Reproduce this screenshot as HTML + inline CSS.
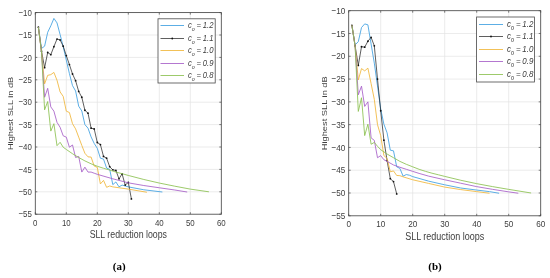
<!DOCTYPE html>
<html><head><meta charset="utf-8"><title>SLL reduction</title>
<style>
html,body{margin:0;padding:0;background:#fff;}
svg{display:block}
.s{font-family:"Liberation Sans",Arial,sans-serif;fill:#404040}
.f{font-family:"Liberation Serif","Times New Roman",serif;fill:#000}
</style></head><body>
<svg width="550" height="278" viewBox="0 0 550 278">
<rect width="550" height="278" fill="#fff"/>
<path d="M66.30 12.60V214.20M97.30 12.60V214.20M128.30 12.60V214.20M159.30 12.60V214.20M190.30 12.60V214.20M35.30 191.80H221.30M35.30 169.40H221.30M35.30 147.00H221.30M35.30 124.60H221.30M35.30 102.20H221.30M35.30 79.80H221.30M35.30 57.40H221.30M35.30 35.00H221.30" stroke="#e3e3e3" stroke-width="0.7" fill="none"/>
<polyline points="38.40,27.20 41.50,48.44 44.60,46.20 47.70,32.31 50.80,25.82 53.90,18.42 57.00,22.90 60.10,34.55 63.20,46.65 66.30,60.09 69.40,73.53 72.50,85.62 75.60,91.00 78.70,106.23 81.80,110.94 84.90,124.60 88.00,128.18 91.10,136.92 94.20,143.42 97.30,148.34 100.40,158.20 103.50,159.10 106.60,168.06 109.70,169.40 112.80,184.63 115.90,181.94 119.00,186.87 122.10,185.08 125.20,185.98 128.30,186.87 143.80,189.78 162.40,192.02" fill="none" stroke="#3f9fe0" stroke-width="0.85" stroke-linejoin="round"/>
<polyline points="38.40,27.20 41.50,51.13 44.60,67.70 47.70,52.47 50.80,54.71 53.90,46.65 57.00,39.03 60.10,39.93 63.20,46.20 66.30,55.61 69.40,64.57 72.50,73.98 75.60,80.70 78.70,91.45 81.80,97.27 84.90,110.26 88.00,113.18 91.10,128.18 94.20,128.90 97.30,142.52 100.40,144.54 103.50,156.41 106.60,158.20 109.70,166.71 112.80,169.85 115.90,170.52 119.00,178.81 122.10,173.88 125.20,185.08 128.30,182.39 131.40,198.97" fill="none" stroke="#1a1a1a" stroke-width="0.7" stroke-linejoin="round"/>
<circle cx="38.40" cy="27.20" r="0.9" fill="#111"/>
<circle cx="41.50" cy="51.13" r="0.9" fill="#111"/>
<circle cx="44.60" cy="67.70" r="0.9" fill="#111"/>
<circle cx="47.70" cy="52.47" r="0.9" fill="#111"/>
<circle cx="50.80" cy="54.71" r="0.9" fill="#111"/>
<circle cx="53.90" cy="46.65" r="0.9" fill="#111"/>
<circle cx="57.00" cy="39.03" r="0.9" fill="#111"/>
<circle cx="60.10" cy="39.93" r="0.9" fill="#111"/>
<circle cx="63.20" cy="46.20" r="0.9" fill="#111"/>
<circle cx="66.30" cy="55.61" r="0.9" fill="#111"/>
<circle cx="69.40" cy="64.57" r="0.9" fill="#111"/>
<circle cx="72.50" cy="73.98" r="0.9" fill="#111"/>
<circle cx="75.60" cy="80.70" r="0.9" fill="#111"/>
<circle cx="78.70" cy="91.45" r="0.9" fill="#111"/>
<circle cx="81.80" cy="97.27" r="0.9" fill="#111"/>
<circle cx="84.90" cy="110.26" r="0.9" fill="#111"/>
<circle cx="88.00" cy="113.18" r="0.9" fill="#111"/>
<circle cx="91.10" cy="128.18" r="0.9" fill="#111"/>
<circle cx="94.20" cy="128.90" r="0.9" fill="#111"/>
<circle cx="97.30" cy="142.52" r="0.9" fill="#111"/>
<circle cx="100.40" cy="144.54" r="0.9" fill="#111"/>
<circle cx="103.50" cy="156.41" r="0.9" fill="#111"/>
<circle cx="106.60" cy="158.20" r="0.9" fill="#111"/>
<circle cx="109.70" cy="166.71" r="0.9" fill="#111"/>
<circle cx="112.80" cy="169.85" r="0.9" fill="#111"/>
<circle cx="115.90" cy="170.52" r="0.9" fill="#111"/>
<circle cx="119.00" cy="178.81" r="0.9" fill="#111"/>
<circle cx="122.10" cy="173.88" r="0.9" fill="#111"/>
<circle cx="125.20" cy="185.08" r="0.9" fill="#111"/>
<circle cx="128.30" cy="182.39" r="0.9" fill="#111"/>
<circle cx="131.40" cy="198.97" r="0.9" fill="#111"/>
<polyline points="38.40,27.20 41.50,51.58 44.60,83.83 47.70,75.32 50.80,74.65 53.90,72.41 57.00,80.25 60.10,91.90 63.20,96.38 66.30,111.16 69.40,112.50 72.50,123.70 75.60,128.90 78.70,137.14 81.80,145.43 84.90,153.27 88.00,156.86 91.10,157.08 94.20,166.04 97.30,167.38 100.40,183.96 103.50,180.38 106.60,187.32 109.70,185.98 112.80,186.87 128.30,189.11 146.90,192.25" fill="none" stroke="#f0b63a" stroke-width="0.85" stroke-linejoin="round"/>
<polyline points="38.40,27.20 41.50,52.02 44.60,97.27 47.70,88.31 50.80,106.90 53.90,111.16 57.00,122.36 60.10,127.29 63.20,135.80 66.30,137.14 69.40,147.22 72.50,144.98 75.60,157.53 78.70,156.41 81.80,172.09 84.90,167.16 88.00,172.09 91.10,172.09 94.20,173.21 97.30,174.33 112.80,178.81 128.30,182.84 143.80,185.53 159.30,187.77 174.80,190.01 187.20,192.02" fill="none" stroke="#a75fc8" stroke-width="0.85" stroke-linejoin="round"/>
<polyline points="38.40,27.20 41.50,52.02 44.60,109.82 47.70,101.53 50.80,131.10 53.90,123.70 57.00,145.66 60.10,142.30 63.20,147.22 66.30,149.46 72.50,153.72 78.70,157.53 84.90,160.89 91.10,163.80 97.30,166.26 103.50,168.28 109.70,170.07 115.90,172.09 122.10,173.66 128.30,175.45 143.80,179.48 159.30,183.06 174.80,186.20 190.30,189.11 208.90,191.80" fill="none" stroke="#8bc050" stroke-width="0.85" stroke-linejoin="round"/>
<path d="M35.30 214.20v-2.0M35.30 12.60v2.0M66.30 214.20v-2.0M66.30 12.60v2.0M97.30 214.20v-2.0M97.30 12.60v2.0M128.30 214.20v-2.0M128.30 12.60v2.0M159.30 214.20v-2.0M159.30 12.60v2.0M190.30 214.20v-2.0M190.30 12.60v2.0M221.30 214.20v-2.0M221.30 12.60v2.0M35.30 214.20h2.0M221.30 214.20h-2.0M35.30 191.80h2.0M221.30 191.80h-2.0M35.30 169.40h2.0M221.30 169.40h-2.0M35.30 147.00h2.0M221.30 147.00h-2.0M35.30 124.60h2.0M221.30 124.60h-2.0M35.30 102.20h2.0M221.30 102.20h-2.0M35.30 79.80h2.0M221.30 79.80h-2.0M35.30 57.40h2.0M221.30 57.40h-2.0M35.30 35.00h2.0M221.30 35.00h-2.0M35.30 12.60h2.0M221.30 12.60h-2.0" stroke="#484848" stroke-width="0.7" fill="none"/>
<rect x="35.30" y="12.60" width="186.00" height="201.60" fill="none" stroke="#484848" stroke-width="0.85"/>
<text transform="translate(35.30 225.80) scale(1 1.2)" font-size="7.9" text-anchor="middle" class="s">0</text>
<text transform="translate(66.30 225.80) scale(1 1.2)" font-size="7.9" text-anchor="middle" class="s">10</text>
<text transform="translate(97.30 225.80) scale(1 1.2)" font-size="7.9" text-anchor="middle" class="s">20</text>
<text transform="translate(128.30 225.80) scale(1 1.2)" font-size="7.9" text-anchor="middle" class="s">30</text>
<text transform="translate(159.30 225.80) scale(1 1.2)" font-size="7.9" text-anchor="middle" class="s">40</text>
<text transform="translate(190.30 225.80) scale(1 1.2)" font-size="7.9" text-anchor="middle" class="s">50</text>
<text transform="translate(221.30 225.80) scale(1 1.2)" font-size="7.9" text-anchor="middle" class="s">60</text>
<text transform="translate(31.90 217.30) scale(1 1.2)" font-size="7.9" text-anchor="end" class="s">−55</text>
<text transform="translate(31.90 194.90) scale(1 1.2)" font-size="7.9" text-anchor="end" class="s">−50</text>
<text transform="translate(31.90 172.50) scale(1 1.2)" font-size="7.9" text-anchor="end" class="s">−45</text>
<text transform="translate(31.90 150.10) scale(1 1.2)" font-size="7.9" text-anchor="end" class="s">−40</text>
<text transform="translate(31.90 127.70) scale(1 1.2)" font-size="7.9" text-anchor="end" class="s">−35</text>
<text transform="translate(31.90 105.30) scale(1 1.2)" font-size="7.9" text-anchor="end" class="s">−30</text>
<text transform="translate(31.90 82.90) scale(1 1.2)" font-size="7.9" text-anchor="end" class="s">−25</text>
<text transform="translate(31.90 60.50) scale(1 1.2)" font-size="7.9" text-anchor="end" class="s">−20</text>
<text transform="translate(31.90 38.10) scale(1 1.2)" font-size="7.9" text-anchor="end" class="s">−15</text>
<text transform="translate(31.90 15.70) scale(1 1.2)" font-size="7.9" text-anchor="end" class="s">−10</text>
<text transform="translate(128.30 237.90) scale(1 1.18)" font-size="8.8" text-anchor="middle" class="s">SLL reduction loops</text>
<text transform="translate(13.40 113.40) rotate(-90) scale(1 0.86)" font-size="9.2" text-anchor="middle" class="s">Highest SLL in dB</text>
<rect x="158.0" y="18.8" width="57.20" height="64.20" fill="#fff" stroke="#4a4a4a" stroke-width="0.8"/>
<path d="M160.5 25.50H184.0" stroke="#3f9fe0" stroke-width="0.85"/>
<text transform="translate(188.0 28.40) scale(1 1.15)" font-size="7.7" font-style="italic" word-spacing="-0.4" class="s">c<tspan font-size="5.39" dy="2">o</tspan><tspan dy="-2"> = 1.2</tspan></text>
<path d="M160.5 38.50H184.0" stroke="#1a1a1a" stroke-width="0.7"/>
<circle cx="172.25" cy="38.50" r="0.9" fill="#111"/>
<text transform="translate(188.0 41.40) scale(1 1.15)" font-size="7.7" font-style="italic" word-spacing="-0.4" class="s">c<tspan font-size="5.39" dy="2">o</tspan><tspan dy="-2"> = 1.1</tspan></text>
<path d="M160.5 50.50H184.0" stroke="#f0b63a" stroke-width="0.85"/>
<text transform="translate(188.0 53.40) scale(1 1.15)" font-size="7.7" font-style="italic" word-spacing="-0.4" class="s">c<tspan font-size="5.39" dy="2">o</tspan><tspan dy="-2"> = 1.0</tspan></text>
<path d="M160.5 63.50H184.0" stroke="#a75fc8" stroke-width="0.85"/>
<text transform="translate(188.0 66.40) scale(1 1.15)" font-size="7.7" font-style="italic" word-spacing="-0.4" class="s">c<tspan font-size="5.39" dy="2">o</tspan><tspan dy="-2"> = 0.9</tspan></text>
<path d="M160.5 75.50H184.0" stroke="#8bc050" stroke-width="0.85"/>
<text transform="translate(188.0 78.40) scale(1 1.15)" font-size="7.7" font-style="italic" word-spacing="-0.4" class="s">c<tspan font-size="5.39" dy="2">o</tspan><tspan dy="-2"> = 0.8</tspan></text>
<text transform="translate(119.2 270.0) scale(1 1.02)" font-size="11" font-weight="bold" text-anchor="middle" class="f">(a)</text>
<path d="M380.70 10.70V215.80M412.70 10.70V215.80M444.70 10.70V215.80M476.70 10.70V215.80M508.70 10.70V215.80M348.70 193.01H540.70M348.70 170.22H540.70M348.70 147.43H540.70M348.70 124.64H540.70M348.70 101.86H540.70M348.70 79.07H540.70M348.70 56.28H540.70M348.70 33.49H540.70" stroke="#e3e3e3" stroke-width="0.7" fill="none"/>
<polyline points="351.90,25.28 355.10,44.88 358.30,41.69 361.50,27.56 364.70,23.92 367.90,24.83 371.10,43.97 374.30,63.11 377.50,85.90 380.70,109.15 383.90,124.19 387.10,132.85 390.30,150.17 393.50,150.85 396.70,166.80 399.90,168.40 403.10,176.15 406.30,174.55 409.50,175.24 412.70,176.60 428.70,181.16 444.70,184.81 460.70,188.00 476.70,190.05 489.50,191.64 499.10,193.24" fill="none" stroke="#3f9fe0" stroke-width="0.85" stroke-linejoin="round"/>
<polyline points="351.90,25.28 355.10,45.79 358.30,65.39 361.50,46.71 364.70,47.16 367.90,41.24 371.10,37.36 374.30,45.79 377.50,79.07 380.70,110.74 383.90,140.14 387.10,160.65 390.30,178.70 393.50,181.62 396.70,193.92" fill="none" stroke="#1a1a1a" stroke-width="0.7" stroke-linejoin="round"/>
<circle cx="351.90" cy="25.28" r="0.9" fill="#111"/>
<circle cx="355.10" cy="45.79" r="0.9" fill="#111"/>
<circle cx="358.30" cy="65.39" r="0.9" fill="#111"/>
<circle cx="361.50" cy="46.71" r="0.9" fill="#111"/>
<circle cx="364.70" cy="47.16" r="0.9" fill="#111"/>
<circle cx="367.90" cy="41.24" r="0.9" fill="#111"/>
<circle cx="371.10" cy="37.36" r="0.9" fill="#111"/>
<circle cx="374.30" cy="45.79" r="0.9" fill="#111"/>
<circle cx="377.50" cy="79.07" r="0.9" fill="#111"/>
<circle cx="380.70" cy="110.74" r="0.9" fill="#111"/>
<circle cx="383.90" cy="140.14" r="0.9" fill="#111"/>
<circle cx="387.10" cy="160.65" r="0.9" fill="#111"/>
<circle cx="390.30" cy="178.70" r="0.9" fill="#111"/>
<circle cx="393.50" cy="181.62" r="0.9" fill="#111"/>
<circle cx="396.70" cy="193.92" r="0.9" fill="#111"/>
<polyline points="351.90,25.28 355.10,45.79 358.30,79.98 361.50,68.58 364.70,70.86 367.90,68.13 371.10,83.62 374.30,99.35 377.50,124.64 380.70,135.58 383.90,155.64 387.10,158.37 390.30,171.82 393.50,170.91 396.70,175.46 399.90,175.69 403.10,176.83 412.70,179.79 428.70,183.44 444.70,187.09 460.70,189.59 476.70,191.64 489.50,193.24" fill="none" stroke="#f0b63a" stroke-width="0.85" stroke-linejoin="round"/>
<polyline points="351.90,25.28 355.10,46.25 358.30,94.79 361.50,86.13 364.70,106.41 367.90,101.86 371.10,137.86 374.30,140.37 377.50,157.73 380.70,155.64 383.90,159.74 387.10,161.38 393.50,164.98 399.90,167.26 406.30,169.31 412.70,171.36 419.10,173.41 428.70,176.15 444.70,179.79 460.70,183.21 476.70,186.63 492.70,189.36 508.70,191.87 518.30,193.24" fill="none" stroke="#a75fc8" stroke-width="0.85" stroke-linejoin="round"/>
<polyline points="351.90,25.28 355.10,46.25 358.30,111.43 361.50,97.75 364.70,135.58 367.90,124.19 371.10,144.24 374.30,142.42 377.50,146.29 380.70,149.71 387.10,154.04 393.50,157.73 399.90,161.38 406.30,164.30 412.70,166.80 419.10,169.31 425.50,171.36 431.90,173.18 438.30,174.78 444.70,176.38 460.70,180.25 476.70,183.67 492.70,186.63 508.70,189.36 531.10,193.01" fill="none" stroke="#8bc050" stroke-width="0.85" stroke-linejoin="round"/>
<path d="M348.70 215.80v-2.0M348.70 10.70v2.0M380.70 215.80v-2.0M380.70 10.70v2.0M412.70 215.80v-2.0M412.70 10.70v2.0M444.70 215.80v-2.0M444.70 10.70v2.0M476.70 215.80v-2.0M476.70 10.70v2.0M508.70 215.80v-2.0M508.70 10.70v2.0M540.70 215.80v-2.0M540.70 10.70v2.0M348.70 215.80h2.0M540.70 215.80h-2.0M348.70 193.01h2.0M540.70 193.01h-2.0M348.70 170.22h2.0M540.70 170.22h-2.0M348.70 147.43h2.0M540.70 147.43h-2.0M348.70 124.64h2.0M540.70 124.64h-2.0M348.70 101.86h2.0M540.70 101.86h-2.0M348.70 79.07h2.0M540.70 79.07h-2.0M348.70 56.28h2.0M540.70 56.28h-2.0M348.70 33.49h2.0M540.70 33.49h-2.0M348.70 10.70h2.0M540.70 10.70h-2.0" stroke="#484848" stroke-width="0.7" fill="none"/>
<rect x="348.70" y="10.70" width="192.00" height="205.10" fill="none" stroke="#484848" stroke-width="0.85"/>
<text transform="translate(348.70 227.40) scale(1 1.2)" font-size="8.2" text-anchor="middle" class="s">0</text>
<text transform="translate(380.70 227.40) scale(1 1.2)" font-size="8.2" text-anchor="middle" class="s">10</text>
<text transform="translate(412.70 227.40) scale(1 1.2)" font-size="8.2" text-anchor="middle" class="s">20</text>
<text transform="translate(444.70 227.40) scale(1 1.2)" font-size="8.2" text-anchor="middle" class="s">30</text>
<text transform="translate(476.70 227.40) scale(1 1.2)" font-size="8.2" text-anchor="middle" class="s">40</text>
<text transform="translate(508.70 227.40) scale(1 1.2)" font-size="8.2" text-anchor="middle" class="s">50</text>
<text transform="translate(540.70 227.40) scale(1 1.2)" font-size="8.2" text-anchor="middle" class="s">60</text>
<text transform="translate(345.30 218.90) scale(1 1.2)" font-size="8.2" text-anchor="end" class="s">−55</text>
<text transform="translate(345.30 196.11) scale(1 1.2)" font-size="8.2" text-anchor="end" class="s">−50</text>
<text transform="translate(345.30 173.32) scale(1 1.2)" font-size="8.2" text-anchor="end" class="s">−45</text>
<text transform="translate(345.30 150.53) scale(1 1.2)" font-size="8.2" text-anchor="end" class="s">−40</text>
<text transform="translate(345.30 127.74) scale(1 1.2)" font-size="8.2" text-anchor="end" class="s">−35</text>
<text transform="translate(345.30 104.96) scale(1 1.2)" font-size="8.2" text-anchor="end" class="s">−30</text>
<text transform="translate(345.30 82.17) scale(1 1.2)" font-size="8.2" text-anchor="end" class="s">−25</text>
<text transform="translate(345.30 59.38) scale(1 1.2)" font-size="8.2" text-anchor="end" class="s">−20</text>
<text transform="translate(345.30 36.59) scale(1 1.2)" font-size="8.2" text-anchor="end" class="s">−15</text>
<text transform="translate(345.30 13.80) scale(1 1.2)" font-size="8.2" text-anchor="end" class="s">−10</text>
<text transform="translate(444.70 240.20) scale(1 1.18)" font-size="9.0" text-anchor="middle" class="s">SLL reduction loops</text>
<text transform="translate(326.80 113.25) rotate(-90) scale(1 0.86)" font-size="9.3" text-anchor="middle" class="s">Highest SLL in dB</text>
<rect x="476.6" y="17.0" width="57.80" height="65.00" fill="#fff" stroke="#4a4a4a" stroke-width="0.8"/>
<path d="M479.0 24.50H503.0" stroke="#3f9fe0" stroke-width="0.85"/>
<text transform="translate(507.0 27.40) scale(1 1.15)" font-size="7.95" font-style="italic" word-spacing="-0.4" class="s">c<tspan font-size="5.56" dy="2">o</tspan><tspan dy="-2"> = 1.2</tspan></text>
<path d="M479.0 36.50H503.0" stroke="#1a1a1a" stroke-width="0.7"/>
<circle cx="491.00" cy="36.50" r="0.9" fill="#111"/>
<text transform="translate(507.0 39.40) scale(1 1.15)" font-size="7.95" font-style="italic" word-spacing="-0.4" class="s">c<tspan font-size="5.56" dy="2">o</tspan><tspan dy="-2"> = 1.1</tspan></text>
<path d="M479.0 49.50H503.0" stroke="#f0b63a" stroke-width="0.85"/>
<text transform="translate(507.0 52.40) scale(1 1.15)" font-size="7.95" font-style="italic" word-spacing="-0.4" class="s">c<tspan font-size="5.56" dy="2">o</tspan><tspan dy="-2"> = 1.0</tspan></text>
<path d="M479.0 61.50H503.0" stroke="#a75fc8" stroke-width="0.85"/>
<text transform="translate(507.0 64.40) scale(1 1.15)" font-size="7.95" font-style="italic" word-spacing="-0.4" class="s">c<tspan font-size="5.56" dy="2">o</tspan><tspan dy="-2"> = 0.9</tspan></text>
<path d="M479.0 74.50H503.0" stroke="#8bc050" stroke-width="0.85"/>
<text transform="translate(507.0 77.40) scale(1 1.15)" font-size="7.95" font-style="italic" word-spacing="-0.4" class="s">c<tspan font-size="5.56" dy="2">o</tspan><tspan dy="-2"> = 0.8</tspan></text>
<text transform="translate(435.0 270.0) scale(1 1.02)" font-size="11" font-weight="bold" text-anchor="middle" class="f">(b)</text>
</svg>
</body></html>
